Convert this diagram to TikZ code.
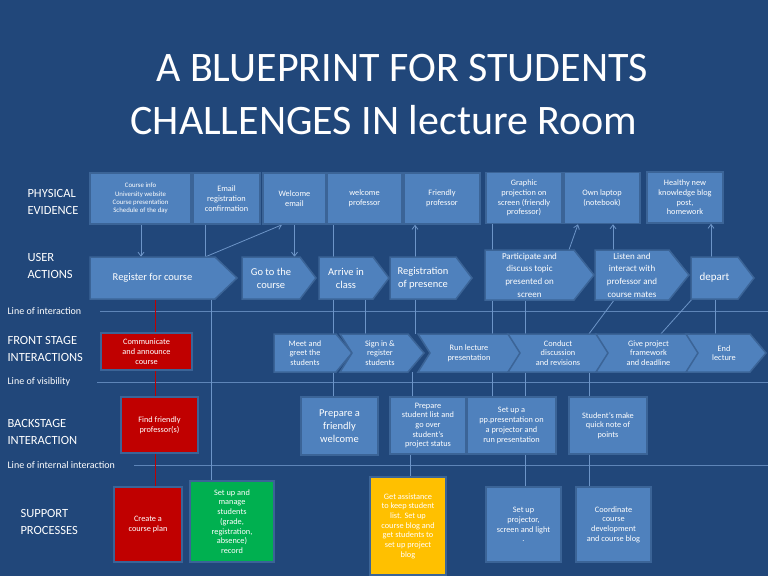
\documentclass[tikz,border=0pt]{standalone}
\usepackage{fontspec}
\setmainfont{Carlito}
\usetikzlibrary{arrows.meta,backgrounds}
\definecolor{bg}{HTML}{21477A}
\definecolor{bx}{HTML}{4F81BD}
\definecolor{bxl}{HTML}{3B6497}
\definecolor{ln}{HTML}{6D95C8}
\definecolor{rd}{HTML}{C00000}
\definecolor{gn}{HTML}{00B050}
\definecolor{yl}{HTML}{FFC000}
\tikzset{
 box/.style={fill=bx,draw=bxl,line width=1.5pt,text=white,align=center,inner sep=1pt,font=\fontsize{8.3}{9.7}\selectfont},
 chtxt/.style={text=white,align=center,inner sep=0pt},
 lab/.style={text=white,align=left,anchor=west,font=\fontsize{12.5}{17}\selectfont},
 sml/.style={text=white,anchor=west,font=\fontsize{10}{12}\selectfont},
 con/.style={draw=ln,line width=0.8pt},
 ac/.style={con,-{Straight Barb[length=4pt,width=6pt]}},
 hl/.style={draw=ln!80!bg,line width=0.6pt}
}
% name, x1, x2, yc, halfh, tip, notch, font, text
\newcommand\mychev[9]{%
 \path[box] ({#2},{#4-#5}) -- ({#3-#6},{#4-#5}) -- ({#3},{#4}) -- ({#3-#6},{#4+#5}) -- ({#2},{#4+#5}) -- ({#2+#7},{#4}) -- cycle;
 \node[chtxt,font=#8,minimum width={#3-#2-#6},minimum height={2*#5}] (#1) at ({(#2+#3-#6+#7)/2},{#4}) {#9};}
\begin{document}
\begin{tikzpicture}[x=1pt,y=-1pt]
\useasboundingbox (0,0) rectangle (768,576);
\node[text=white,font=\fontsize{42}{46}\selectfont] (t1) at (402,68) {A BLUEPRINT FOR STUDENTS};
\node[text=white,font=\fontsize{42}{46}\selectfont] (t2) at (384,120) {CHALLENGES IN lecture Room};
% left labels
\node[lab] (l1) at (24,202) {PHYSICAL\\EVIDENCE};
\node[lab] (l2) at (24,266) {USER\\ACTIONS};
\node[lab] (l3) at (4,349) {FRONT STAGE\\INTERACTIONS};
\node[lab] (l4) at (4,432) {BACKSTAGE\\INTERACTION};
\node[lab] (l5) at (17,522) {SUPPORT\\PROCESSES};
\node[sml] (s1) at (4,311) {Line of interaction};
\node[sml] (s2) at (4,382) {Line of visibility};
\node[sml] (s3) at (4,465) {Line of internal interaction};
\coordinate (h1a) at (100,311); \coordinate (h1b) at (768,311);
\coordinate (h2a) at (97,382); \coordinate (h2b) at (768,382);
\coordinate (h3a) at (134,465); \coordinate (h3b) at (768,465);
% physical evidence
\node[box,minimum width=101,minimum height=51,font=\fontsize{6.8}{8.2}\selectfont] (p1) at (140.5,198.5) {Course info\\University website\\Course presentation\\Schedule of the day};
\node[box,minimum width=67,minimum height=51] (p2) at (226.5,198.5) {Email\\registration\\confirmation};
\node[box,minimum width=63,minimum height=51] (p3) at (294.5,198.5) {Welcome\\email};
\node[box,minimum width=75,minimum height=51] (p4) at (364.5,198.5) {welcome\\professor};
\node[box,minimum width=76,minimum height=51] (p5) at (442,198.5) {Friendly\\professor};
\node[box,minimum width=76,minimum height=51] (p6) at (524,198) {Graphic\\projection on\\screen (friendly\\professor)};
\node[box,minimum width=76,minimum height=51] (p7) at (602,198) {Own laptop\\(notebook)};
\node[box,minimum width=76,minimum height=51] (p8) at (685,197.5) {Healthy new\\knowledge blog\\post,\\homework};
% user actions
\mychev{u1}{90}{237}{278}{21}{22}{0}{\fontsize{10.5}{13}\selectfont}{Register for course}
\mychev{u2}{242}{316}{278}{21}{16}{0}{\fontsize{10.5}{13}\selectfont}{Go to the\\course}
\mychev{u3}{319}{389}{278}{21}{16}{0}{\fontsize{10.5}{13}\selectfont}{Arrive in\\class}
\mychev{u4}{390}{472}{278}{21}{16}{0}{\fontsize{10.5}{13}\selectfont}{Registration\\of presence}
\mychev{u5}{485}{594}{275}{25}{20}{0}{\fontsize{9}{12.7}\selectfont}{Participate and\\discuss topic\\presented on\\screen}
\mychev{u6}{595}{689}{275}{25}{20}{0}{\fontsize{9}{12.7}\selectfont}{Listen and\\interact with\\professor and\\course mates}
\mychev{u7}{691}{754}{278}{21}{16}{0}{\fontsize{11}{13}\selectfont}{depart}
% front stage
\node[box,fill=rd,minimum width=91,minimum height=37] (f0) at (146.5,351.5) {Communicate\\and announce\\course};
\mychev{f1}{274}{352}{353}{19}{16}{0}{\fontsize{8.3}{9.7}\selectfont}{Meet and\\greet the\\students}
\mychev{f2}{340}{424}{353}{19}{16}{12}{\fontsize{8.3}{9.7}\selectfont}{Sign in \&\\register\\students}
\mychev{f3}{418}{524}{353}{19}{16}{12}{\fontsize{8.3}{9.7}\selectfont}{Run lecture\\presentation}
\mychev{f4}{508}{612}{353}{19}{16}{12}{\fontsize{8.3}{9.7}\selectfont}{Conduct\\discussion\\and revisions}
\mychev{f5}{596}{705}{353}{19}{16}{12}{\fontsize{8.3}{9.7}\selectfont}{Give project\\framework\\and deadline}
\mychev{f6}{686}{766}{353}{19}{16}{12}{\fontsize{8.3}{9.7}\selectfont}{End\\lecture}
% backstage
\node[box,fill=rd,minimum width=77,minimum height=56] (b1) at (159.5,425) {Find friendly\\professor(s)};
\node[box,font=\fontsize{10.5}{13}\selectfont,minimum width=77,minimum height=58] (b2) at (339.5,426) {Prepare a\\friendly\\welcome};
\node[box,minimum width=76,minimum height=57] (b3) at (428,425.5) {Prepare\\student list and\\go over\\student's\\project status};
\node[box,minimum width=89,minimum height=57] (b4) at (511.5,425.5) {Set up a\\pp.presentation on\\a projector and\\run presentation};
\node[box,minimum width=78,minimum height=57] (b5) at (608,425.5) {Student's make\\quick note of\\points};
% support
\node[box,fill=rd,minimum width=68,minimum height=75] (c1) at (148,524.5) {Create a\\course plan};
\node[box,fill=gn,minimum width=84,minimum height=81] (c2) at (232,521.5) {Set up and\\manage\\students\\(grade,\\registration,\\absence)\\record};
\node[box,fill=yl,minimum width=76,minimum height=98] (c3) at (408,526) {Get assistance\\to keep student\\list. Set up\\course blog and\\get students to\\set up project\\blog};
\node[box,minimum width=75,minimum height=75] (c4) at (523.5,524.5) {Set up\\projector,\\screen and light\\.};
\node[box,minimum width=75,minimum height=75] (c5) at (613.5,524.5) {Coordinate\\course\\development\\and course blog};
% connectors behind
\begin{scope}[on background layer]
\fill[bg] (0,0) rectangle (768,576);
\draw[hl] (h1a)--(h1b); \draw[hl] (h2a)--(h2b); \draw[hl] (h3a)--(h3b);
\draw[ac] (p1.south -| 141,0) -- (u1.north -| 141,0);
\draw[con] (p2.south -| 205,0) -- (205,257);
\coordinate (r1) at (205,257);
\draw[ac] (r1) -- (p3.south -| 282,0);
\draw[ac] (p3.south) -- (u2.north -| p3.south);
\draw[con] (p4.south -| 333,0) -- (b2.north -| 333,0);
\draw[ac] (u4.north -| 415,0) -- (p5.south -| 415,0);
\draw[con] (u4.south -| 415,0) -- (f2.north -| 415,0);
\draw[con] (u3.south -| 365,0) -- (f2.north -| 365,0);
\draw[con] (f2.south -| 412,0) -- (b3.north -| 412,0);
\draw[con] (b3.south -| 410,0) -- (c3.north -| 410,0);
\draw[con] (p6.south -| 492,0) -- (b4.north -| 492,0);
\draw[con] (u5.south -| 525,0) -- (c4.north -| 525,0);
\draw[ac] (u5.north -| 569,0) -- (p7.south -| 578,0);
\draw[ac] (u6.north -| 613,0) -- (p7.south -| 613,0);
\draw[con] (u6.south -| 614,0) -- (f4.north -| 589,0);
\draw[con] (f4.south -| 589,0) -- (c5.north -| 589,0);
\draw[ac] (u7.north -| 711,0) -- (p8.south -| 711,0);
\draw[con] (u7.south -| 692,0) -- (f5.north -| 661,0);
\draw[con] (u7.south -| 715,0) -- (f6.north -| 715,0);
\draw[con] (u1.south -| 211,0) -- (c2.north -| 211,0);
\draw[draw=rd,line width=1pt] (u1.south -| 155,0) -- (c1.north -| 155,0);
\end{scope}
\end{tikzpicture}
\end{document}
